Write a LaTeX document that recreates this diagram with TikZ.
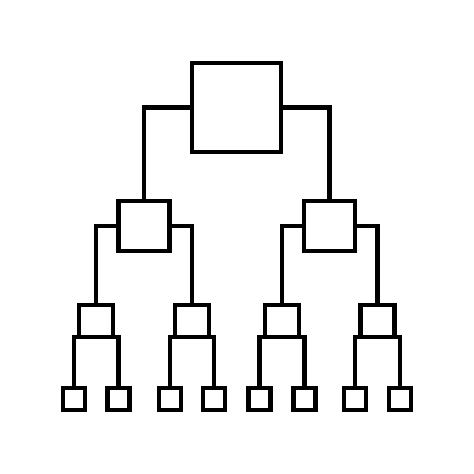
\documentclass[tikz,border=0pt]{standalone}
\begin{document}
\begin{tikzpicture}[x=0.02cm,y=-0.02cm,line width=2.5pt,
	box/.style={draw,rectangle,inner sep=0pt,outer sep=0pt},
	big/.style={box,minimum width=1.78cm,minimum height=1.78cm},
	mid/.style={box,minimum width=1.02cm,minimum height=1cm},
	small/.style={box,minimum width=0.68cm,minimum height=0.64cm},
	leaf/.style={box,minimum width=0.44cm,minimum height=0.44cm}]
	\useasboundingbox (0,0) rectangle (474,474);
	\node[big] (r) at (236.5,107.5) {};
	\node[mid] (a) at (144,226) {};
	\node[mid] (b) at (329.5,226) {};
	\foreach \n/\x in {a1/96,a2/192,b1/282,b2/377.5}
		\node[small] (\n) at (\x,321) {};
	\foreach \n/\x in {a11/74,a12/118.5,a21/170,a22/214,b11/259.5,b12/304.5,b21/355,b22/400}
		\node[leaf] (\n) at (\x,399) {};
	\draw (a.north) |- (r.west) (r.east) -| (b.north);
	\draw (a1.north) |- (a.west) (a.east) -| (a2.north);
	\draw (b1.north) |- (b.west) (b.east) -| (b2.north);
	\foreach \n in {a1,a2,b1,b2}
		\draw (\n1.north) |- (\n.south) -| (\n2.north);
\end{tikzpicture}
\end{document}
